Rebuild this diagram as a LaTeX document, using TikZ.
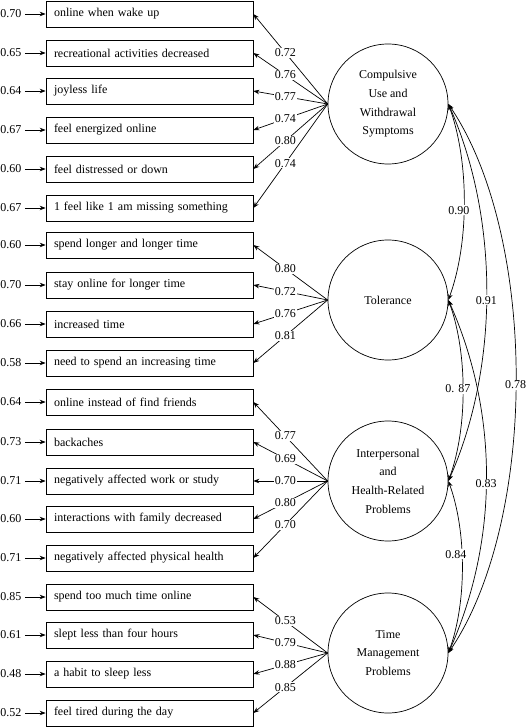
\documentclass[tikz,border=0pt]{standalone}
\usepackage{fontspec}
\setmainfont{Liberation Serif}
\usetikzlibrary{arrows.meta}

\begin{document}
\begin{tikzpicture}[x=1pt,y=1pt,font=\fontsize{12}{14}\selectfont,
  >={Stealth[length=6pt,width=4.5pt]}, line width=0.7pt]

        \useasboundingbox (0,0) rectangle (527,-727);

        \begin{scope}[every node/.style={draw, minimum width=207pt, minimum height=26pt,
            text width=191pt, inner xsep=8pt, align=left}]
          \node (1)  at (149.5,-14)  {online when wake up};
          \node (2)  at (149.5,-53)  {recreational activities decreased};
          \node (3)  at (149.5,-91)  {joyless life};
          \node (4)  at (149.5,-130) {feel energized online};
          \node (5)  at (149.5,-169) {feel distressed or down};
          \node (6)  at (149.5,-208) {1 feel like 1 am missing something};
          \node (7)  at (149.5,-245) {spend longer and longer time};
          \node (8)  at (149.5,-285) {stay online for longer time};
          \node (9)  at (149.5,-324) {increased time};
          \node (10) at (149.5,-363) {need to spend an increasing time};
          \node (11) at (149.5,-402) {online instead of find friends};
          \node (12) at (149.5,-442) {backaches};
          \node (13) at (149.5,-481) {negatively affected work or study};
          \node (14) at (149.5,-519) {interactions with family decreased};
          \node (15) at (149.5,-558) {negatively affected physical health};
          \node (16) at (149.5,-597) {spend too much time online};
          \node (17) at (149.5,-635) {slept less than four hours};
          \node (18) at (149.5,-674) {a habit to sleep less};
          \node (19) at (149.5,-713) {feel tired during the day};
        \end{scope}

        \begin{scope}[every node/.style={circle, draw, minimum size=120pt, inner sep=0pt,
            align=center, font=\fontsize{12}{18.7}\selectfont}]
          \node (C) at (388,-104) {Compulsive\\Use and\\Withdrawal\\Symptoms};
          \node (T) at (388,-300) {Tolerance};
          \node (I) at (388,-481) {Interpersonal\\and\\Health-Related\\Problems};
          \node (M) at (388,-653) {Time\\Management\\Problems};
        \end{scope}

        % error terms
        \begin{scope}[every node/.style={inner sep=3pt}]
          \node (e1)  at (11,-14)  {0.70};
          \node (e2)  at (11,-53)  {0.65};
          \node (e3)  at (11,-91)  {0.64};
          \node (e4)  at (11,-130) {0.67};
          \node (e5)  at (11,-169) {0.60};
          \node (e6)  at (11,-208) {0.67};
          \node (e7)  at (11,-245) {0.60};
          \node (e8)  at (11,-285) {0.70};
          \node (e9)  at (11,-324) {0.66};
          \node (e10) at (11,-363) {0.58};
          \node (e11) at (11,-402) {0.64};
          \node (e12) at (11,-442) {0.73};
          \node (e13) at (11,-481) {0.71};
          \node (e14) at (11,-519) {0.60};
          \node (e15) at (11,-558) {0.71};
          \node (e16) at (11,-597) {0.85};
          \node (e17) at (11,-635) {0.61};
          \node (e18) at (11,-674) {0.48};
          \node (e19) at (11,-713) {0.52};
        \end{scope}

        \begin{scope}[every edge/.style={draw, ->}]
          \path (e1)  edge (1);
          \path (e2)  edge (2);
          \path (e3)  edge (3);
          \path (e4)  edge (4);
          \path (e5)  edge (5);
          \path (e6)  edge (6);
          \path (e7)  edge (7);
          \path (e8)  edge (8);
          \path (e9)  edge (9);
          \path (e10) edge (10);
          \path (e11) edge (11);
          \path (e12) edge (12);
          \path (e13) edge (13);
          \path (e14) edge (14);
          \path (e15) edge (15);
          \path (e16) edge (16);
          \path (e17) edge (17);
          \path (e18) edge (18);
          \path (e19) edge (19);
        \end{scope}

        % loadings
        \begin{scope}[every node/.style={fill=white, inner sep=1pt, pos=.57}]

          \begin{scope}[every edge/.style={draw, ->}]
            \path (C.west) edge node {0.72} (1.east);
            \path (C.west) edge node {0.76} (2.east);
            \path (C.west) edge node {0.77} (3.east);
            \path (C.west) edge node {0.74} (4.east);
            \path (C.west) edge node {0.80} (5.east);
            \path (C.west) edge node {0.74} (6.east);
            \path (T.west) edge node {0.80} (7.east);
            \path (T.west) edge node {0.72} (8.east);
            \path (T.west) edge node {0.76} (9.east);
            \path (T.west) edge node {0.81} (10.east);
            \path (I.west) edge node {0.77} (11.east);
            \path (I.west) edge node {0.69} (12.east);
            \path (I.west) edge node {0.70} (13.east);
            \path (I.west) edge node {0.80} (14.east);
            \path (I.west) edge node {0.70} (15.east);
            \path (M.west) edge node {0.53} (16.east);
            \path (M.west) edge node {0.79} (17.east);
            \path (M.west) edge node {0.88} (18.east);
            \path (M.west) edge node {0.85} (19.east);
          \end{scope}
        \end{scope}

        % correlations
        \begin{scope}[every node/.style={fill=white, inner sep=1pt}]

          \begin{scope}[every edge/.style={draw, <->}]
            \path (C.east) edge[out=-56, in=56, looseness=.75] node[pos=.51] {0.78} (M.east);
            \path (C.east) edge[out=-66, in=66, looseness=.85] node[pos=.52] {0.91} (I.east);
            \path (T.east) edge[out=-66, in=66, looseness=.9]  node[pos=.52] {0.83} (M.east);
            \path (C.east) edge[out=-70, in=70, looseness=.8]  node[pos=.54, xshift=-5pt] {0.90} (T.east);
            \path (T.east) edge[out=-70, in=70, looseness=.8]  node[pos=.49, xshift=-5pt] {0. 87} (I.east);
            \path (I.east) edge[out=-70, in=70, looseness=.8]  node[pos=.43, xshift=-6pt] {0.84} (M.east);
          \end{scope}
        \end{scope}

      \end{tikzpicture}
\end{document}
